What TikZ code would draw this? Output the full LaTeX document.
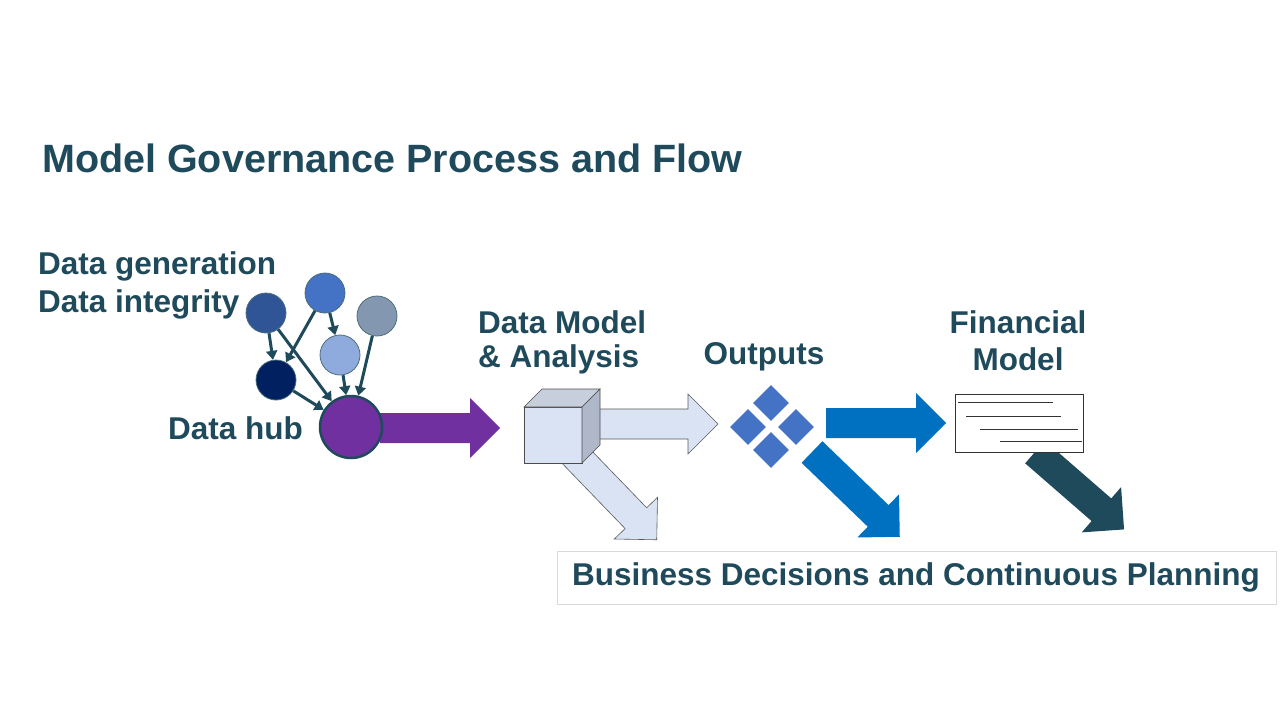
\documentclass[tikz,border=0pt]{standalone}
\usepackage{fontspec}
\setmainfont{Liberation Sans}
\usetikzlibrary{arrows.meta,shapes.geometric}
\definecolor{teal}{HTML}{1F4A5C}
\definecolor{purp}{HTML}{7030A0}
\definecolor{lightb}{HTML}{DAE3F3}
\definecolor{midb}{HTML}{4472C4}
\definecolor{blueb}{HTML}{0070C0}
\newcommand\blockarrow[4]{%
  \begin{scope}[shift={#2},rotate=#3]
  \filldraw[#1] (0,-15) -- (#4-30,-15) -- (#4-30,-30) -- (#4,0) -- (#4-30,30) -- (#4-30,15) -- (0,15) -- cycle;
  \end{scope}}
\begin{document}
\begin{tikzpicture}[x=1pt,y=-1pt,
  lbl/.style={font=\bfseries\fontsize{31.5}{36}\selectfont,text=teal,inner sep=0},
  dot/.style={circle,draw=teal!80,line width=0.8pt,minimum size=40pt,inner sep=0},
  link/.style={draw=teal,line width=3pt,-{Triangle[length=9pt,width=11pt]}}]
\useasboundingbox (0,0) rectangle (1280,720);
\node[lbl,anchor=west,font=\bfseries\fontsize{39.5}{44}\selectfont] (title) at (42,158) {Model Governance Process and Flow};
\node[lbl,anchor=west] (gen) at (38,266) {Data generation};
\node[lbl,anchor=west] (int) at (38,304) {Data integrity};
\node[lbl,anchor=east] (hubl) at (303,428) {Data hub};
\node[lbl,anchor=west] (dm1) at (478,322) {Data Model};
\node[lbl,anchor=west] (dm2) at (478,359) {\& Analysis};
\node[lbl] (out) at (764,357) {Outputs};
\node[lbl] (fm1) at (1018,322) {Financial};
\node[lbl] (fm2) at (1018,359) {Model};
% circles
\node[dot,fill={rgb,255:red,47;green,85;blue,151}] (c1) at (266,313) {};
\node[dot,fill=midb] (c2) at (325,293) {};
\node[dot,fill={rgb,255:red,132;green,151;blue,176}] (c3) at (377,316) {};
\node[dot,fill={rgb,255:red,143;green,170;blue,220}] (c4) at (340,355) {};
\node[dot,fill={rgb,255:red,0;green,32;blue,96}] (c5) at (276,380) {};
\blockarrow{fill=purp,draw=none}{(380,428)}{0}{120}
\node[circle,draw=teal,line width=2.5pt,fill=purp,minimum size=62pt,inner sep=0] (hub) at (351,427) {};
\draw[link] (c1) -- (c5);
\draw[link] (c1) -- (hub);
\draw[link] (c2) -- (c5);
\draw[link] (c2) -- (c4);
\draw[link] (c4) -- (hub);
\draw[link] (c3) -- (hub);
\draw[link] (c5) -- (hub);
% light arrows
\blockarrow{fill=lightb,draw=gray!70!black,line width=0.6pt}{(572,452)}{-46}{122}
\blockarrow{fill=lightb,draw=gray!70!black,line width=0.6pt}{(598,424)}{0}{120}
% cube
\filldraw[fill=lightb,draw=gray!60!black,line width=0.6pt] (524,407) rectangle (582,463);
\filldraw[fill=lightb!80!gray,draw=gray!60!black,line width=0.6pt] (524,407) -- (542,389) -- (600,389) -- (582,407) -- cycle;
\filldraw[fill={rgb,255:red,175;green,184;blue,200},draw=gray!60!black,line width=0.6pt] (582,407) -- (600,389) -- (600,445) -- (582,463) -- cycle;
% blue arrows
\blockarrow{fill=blueb,draw=none}{(812,452)}{-44}{122}
\blockarrow{fill=blueb,draw=none}{(826,423)}{0}{120}
% diamonds
\foreach \p/\n in {{(771,403)}/d1,{(748,427)}/d2,{(796,427)}/d3,{(771,450)}/d4}
  \node[diamond,fill=midb,minimum size=36pt,inner sep=0] (\n) at \p {};
% dark arrow
\blockarrow{fill=teal,draw=none}{(1035,452)}{-41}{118}
% document
\filldraw[fill=white,draw=black!80,line width=0.6pt] (955,394) rectangle (1083,452);
\draw[black!80,line width=0.6pt] (958,402) -- (1053,402) (966,416) -- (1061,416) (980,429) -- (1078,429) (1000,441) -- (1082,441);
% bottom box
\node[draw=black!15,line width=0.8pt,minimum width=719pt,minimum height=53pt,inner sep=0] (biz) at (916.5,577.5) {};
\node[lbl] (bizt) at (916,577) {Business Decisions and Continuous Planning};
\end{tikzpicture}
\end{document}
